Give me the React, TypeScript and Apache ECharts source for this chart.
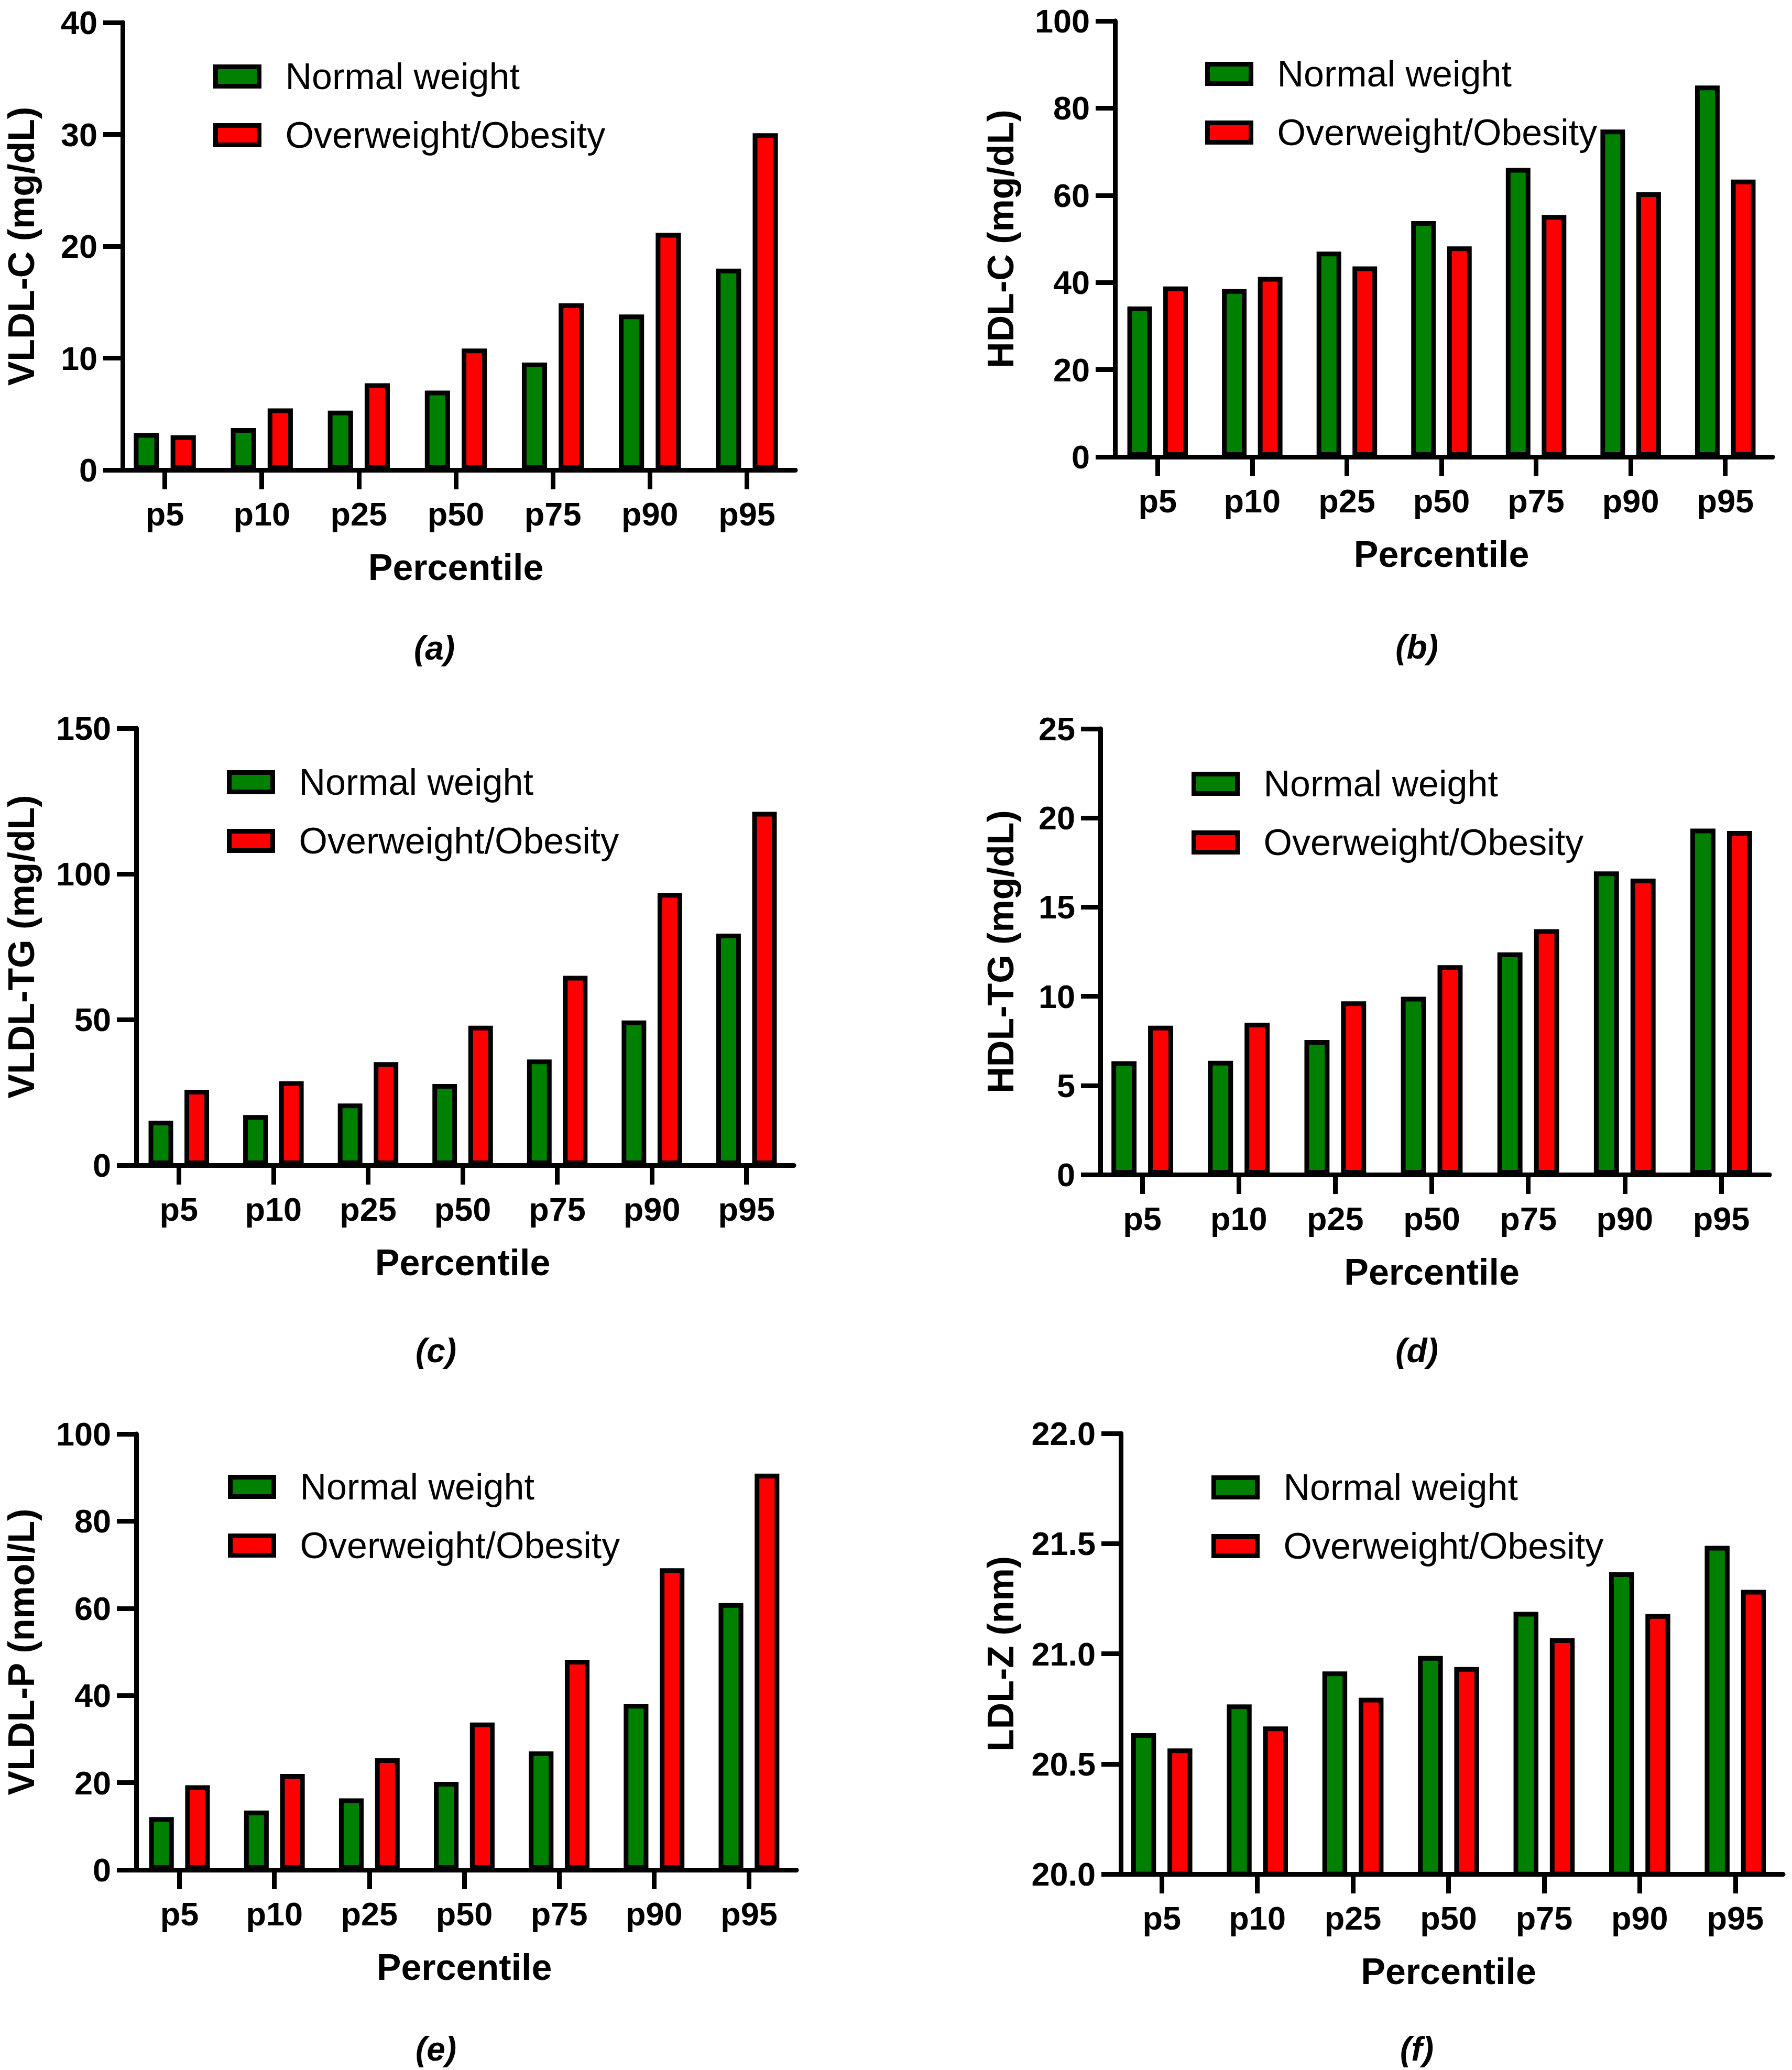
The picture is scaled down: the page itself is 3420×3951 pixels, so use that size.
import React, { useEffect, useRef } from "react";
import * as echarts from "echarts";

// Percentile categories shared by every panel
const percentiles = ["p5", "p10", "p25", "p50", "p75", "p90", "p95"];
const groupNames = ["Normal weight", "Overweight/Obesity"];

// (a) VLDL-C, mg/dL
const vldlCNormal = [3.3, 3.75, 5.3, 7.1, 9.6, 13.9, 18.0];
const vldlCOver = [3.1, 5.5, 7.75, 10.85, 14.9, 21.2, 30.1];
// (b) HDL-C, mg/dL
const hdlCNormal = [34.5, 38.5, 47.1, 54.1, 66.3, 75.1, 85.2];
const hdlCOver = [39.1, 41.3, 43.7, 48.3, 55.5, 60.7, 63.6];
// (c) VLDL-TG, mg/dL
const vldlTgNormal = [15.3, 17.2, 21.2, 27.9, 36.3, 49.7, 79.5];
const vldlTgOver = [25.9, 28.8, 35.4, 47.9, 65.0, 93.5, 121.3];
// (d) HDL-TG, mg/dL
const hdlTgNormal = [6.36, 6.38, 7.55, 9.97, 12.46, 17.0, 19.4];
const hdlTgOver = [8.35, 8.52, 9.72, 11.74, 13.76, 16.6, 19.27];
// (e) VLDL-P, nmol/L
const vldlPNormal = [12.1, 13.6, 16.4, 20.2, 27.2, 38.1, 61.2];
const vldlPOver = [19.4, 22.0, 25.6, 33.8, 48.2, 69.2, 90.9];
// (f) LDL-Z, nm
const ldlZNormal = [20.64, 20.77, 20.92, 20.99, 21.19, 21.37, 21.49];
const ldlZOver = [20.57, 20.67, 20.8, 20.94, 21.07, 21.18, 21.29];

const panelLetters = ["(a)", "(b)", "(c)", "(d)", "(e)", "(f)"];
const yTitles = [
  "VLDL-C (mg/dL)",
  "HDL-C (mg/dL)",
  "VLDL-TG (mg/dL)",
  "HDL-TG (mg/dL)",
  "VLDL-P (nmol/L)",
  "LDL-Z (nm)",
];
const yMins = [0, 0, 0, 0, 0, 20];
const yMaxs = [40, 100, 150, 25, 100, 22];
const yIntervals = [10, 20, 50, 5, 20, 0.5];
const yDecimals = [0, 0, 0, 0, 0, 1];
const xTitle = "Percentile";

const panelValues = [
  [vldlCNormal, vldlCOver],
  [hdlCNormal, hdlCOver],
  [vldlTgNormal, vldlTgOver],
  [hdlTgNormal, hdlTgOver],
  [vldlPNormal, vldlPOver],
  [ldlZNormal, ldlZOver],
];

// Page geometry of each panel
const panelLayout = [
  { gridLeft: 222, gridRight: 1518, axisX: 234, top: 43, bottom: 897, legendLeft: 407, legendTop: 111, letterX: 829, letterY: 1237, titleX: 41 },
  { gridLeft: 2119, gridRight: 3383, axisX: 2128, top: 40, bottom: 872, legendLeft: 2300, legendTop: 106, letterX: 2704, letterY: 1235, titleX: 1910 },
  { gridLeft: 251, gridRight: 1515, axisX: 260, top: 1390, bottom: 2224, legendLeft: 433, legendTop: 1458, letterX: 832, letterY: 2578, titleX: 41 },
  { gridLeft: 2088, gridRight: 3377, axisX: 2100, top: 1391, bottom: 2242, legendLeft: 2274, legendTop: 1461, letterX: 2704, letterY: 2578, titleX: 1910 },
  { gridLeft: 252, gridRight: 1520, axisX: 260, top: 2737, bottom: 3569, legendLeft: 435, legendTop: 2803, letterX: 832, letterY: 3911, titleX: 41 },
  { gridLeft: 2126, gridRight: 3403, axisX: 2139, top: 2736, bottom: 3577, legendLeft: 2312, legendTop: 2804, letterX: 2704, letterY: 3911, titleX: 1910 },
];

const FONT = "Liberation Sans";
const barColors = ["#008000", "#ff0000"];
const LINE_W = 9;

function buildOption() {
  const grid: any[] = [];
  const xAxis: any[] = [];
  const yAxis: any[] = [];
  const series: any[] = [];
  const legend: any[] = [];
  const graphic: any[] = [];

  panelLayout.forEach((p, i) => {
    grid.push({
      left: p.gridLeft,
      top: p.top,
      width: p.gridRight - p.gridLeft,
      height: p.bottom - p.top,
      containLabel: false,
    });
    xAxis.push({
      type: "category",
      gridIndex: i,
      data: percentiles,
      boundaryGap: true,
      axisLine: { show: true, lineStyle: { color: "#000", width: LINE_W } },
      axisTick: { show: true, alignWithLabel: true, length: 37, lineStyle: { color: "#000", width: LINE_W } },
      axisLabel: { margin: 52, fontFamily: FONT, fontSize: 63, fontWeight: "bold", color: "#000" },
      splitLine: { show: false },
      name: xTitle,
      nameLocation: "middle",
      nameGap: 151,
      nameTextStyle: { fontFamily: FONT, fontSize: 70, fontWeight: "bold", color: "#000" },
    });
    const dec = yDecimals[i];
    yAxis.push({
      type: "value",
      gridIndex: i,
      min: yMins[i],
      max: yMaxs[i],
      interval: yIntervals[i],
      offset: p.gridLeft - p.axisX,
      axisLine: { show: true, lineStyle: { color: "#000", width: LINE_W } },
      axisTick: { show: true, length: 37, lineStyle: { color: "#000", width: LINE_W } },
      axisLabel: {
        margin: 48,
        fontFamily: FONT,
        fontSize: 63,
        fontWeight: "bold",
        color: "#000",
        formatter: (v: number) => v.toFixed(dec),
      },
      splitLine: { show: false },
      name: yTitles[i],
      nameLocation: "middle",
      nameGap: p.axisX - p.titleX - 35,
      nameTextStyle: { fontFamily: FONT, fontSize: 70, fontWeight: "bold", color: "#000" },
    });
    panelValues[i].forEach((vals, s) => {
      series.push({
        type: "bar",
        name: groupNames[s],
        xAxisIndex: i,
        yAxisIndex: i,
        data: vals,
        barWidth: "26%",
        barGap: "46%",
        itemStyle: { color: barColors[s], borderColor: "#000", borderWidth: LINE_W },
        emphasis: { disabled: true },
      });
    });
    legend.push({
      orient: "vertical",
      left: p.legendLeft,
      top: p.legendTop,
      padding: 0,
      itemGap: 42,
      itemWidth: 83,
      itemHeight: 37,
      icon: "rect",
      selectedMode: false,
      data: groupNames,
      itemStyle: { borderColor: "#000", borderWidth: LINE_W },
      textStyle: {
        fontFamily: FONT,
        fontSize: 70,
        lineHeight: 70,
        color: "#000",
        padding: [0, 0, 0, 45],
      },
    });
    graphic.push({
      type: "text",
      x: p.letterX,
      y: p.letterY,
      style: {
        text: panelLetters[i],
        fontFamily: FONT,
        fontSize: 64,
        fontWeight: "bold",
        fontStyle: "italic",
        fill: "#000",
        textAlign: "center",
        textVerticalAlign: "middle",
      },
    });
  });

  return {
    animation: false,
    backgroundColor: "#ffffff",
    grid,
    xAxis,
    yAxis,
    series,
    legend,
    graphic,
  };
}

export default function App() {
  const ref = useRef<HTMLDivElement | null>(null);

  useEffect(() => {
    document.body.style.margin = "0";
    if (!ref.current) return;
    const chart = echarts.init(ref.current, undefined, { renderer: "svg" });
    chart.setOption(buildOption() as any);
    return () => {
      chart.dispose();
    };
  }, []);

  return <div ref={ref} style={{ width: 3420, height: 3951, background: "#fff" }} />;
}
